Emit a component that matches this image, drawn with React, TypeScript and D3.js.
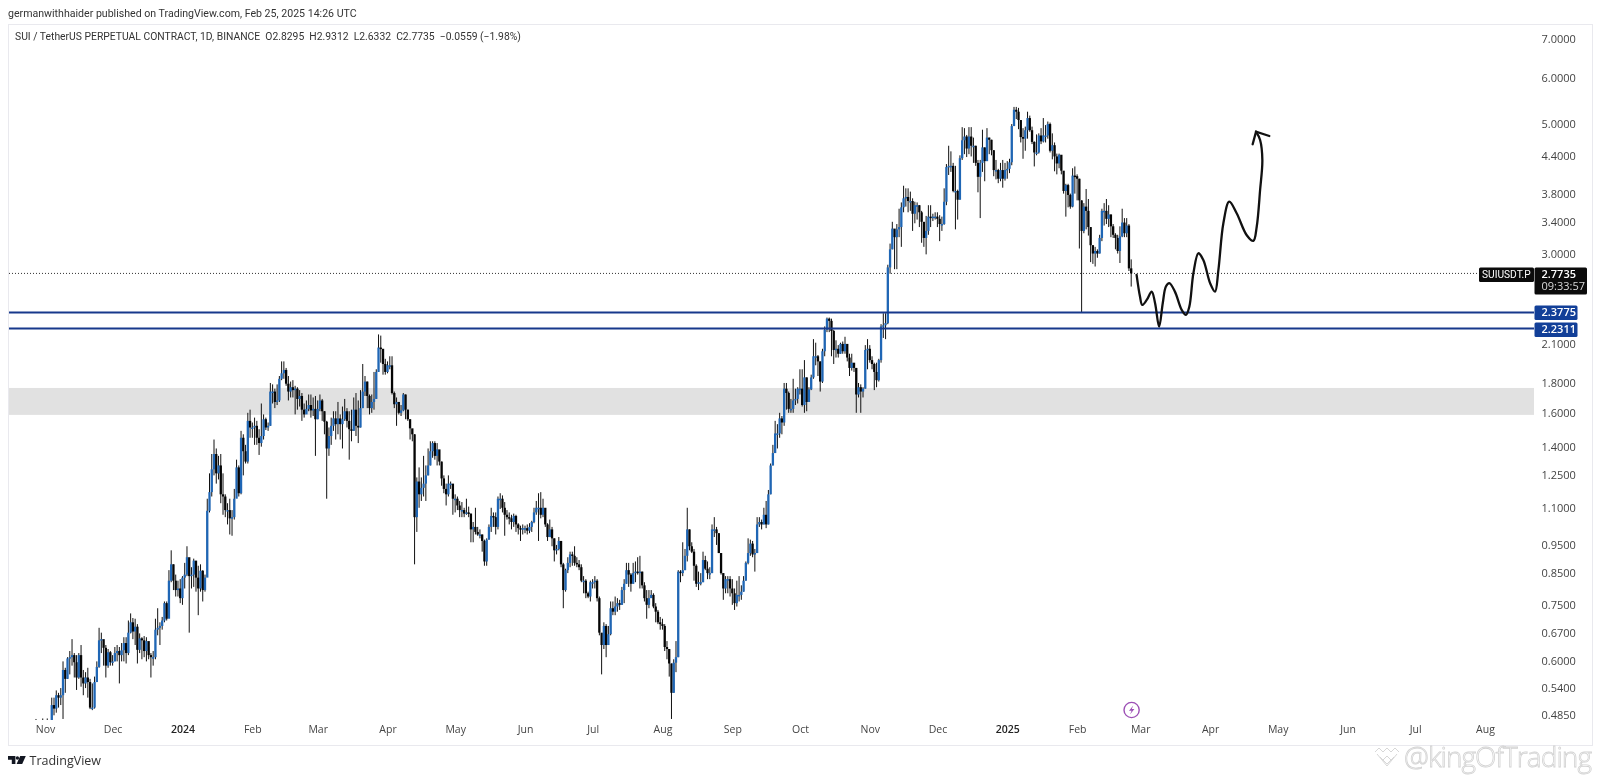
import React, { useEffect, useRef } from "react";
import * as d3 from "d3";

type Bar = [number, number, number]; // high, low, close (open is the previous close)

const oct23: Bar[] = [[0.478,0.44,0.46],[0.47,0.44,0.455],[0.47,0.44,0.46],[0.479,0.45,0.46]];
const nov23: Bar[] = [
  [0.47,0.45,0.46],[0.479,0.45,0.465],[0.47,0.45,0.46],[0.52,0.46,0.505],[0.52,0.485,0.498],[0.535,0.49,0.525],[0.53,0.5,0.52],[0.54,0.505,0.525],
  [0.6,0.478,0.58],[0.585,0.53,0.56],[0.61,0.56,0.607],[0.625,0.57,0.61],[0.655,0.59,0.615],[0.62,0.563,0.598],[0.615,0.536,0.563],[0.62,0.56,0.615],
  [0.64,0.543,0.563],[0.58,0.525,0.55],[0.575,0.54,0.563],[0.585,0.52,0.553],[0.56,0.497,0.5],[0.55,0.495,0.5],[0.565,0.498,0.553],[0.6,0.553,0.587],
  [0.685,0.585,0.652],[0.672,0.62,0.655],[0.65,0.59,0.633],[0.64,0.563,0.59],[0.63,0.585,0.622],[0.625,0.59,0.598],
];
const dec23: Bar[] = [
  [0.615,0.59,0.6],[0.635,0.6,0.62],[0.64,0.6,0.625],[0.635,0.55,0.615],[0.645,0.6,0.627],[0.66,0.6,0.645],[0.66,0.595,0.62],[0.705,0.615,0.672],
  [0.725,0.67,0.7],[0.712,0.655,0.675],[0.71,0.64,0.688],[0.695,0.595,0.628],[0.67,0.62,0.657],[0.66,0.605,0.652],[0.663,0.61,0.625],[0.66,0.6,0.65],
  [0.635,0.605,0.615],[0.62,0.563,0.61],[0.625,0.59,0.61],[0.71,0.605,0.68],[0.74,0.665,0.685],[0.7,0.64,0.69],[0.715,0.68,0.705],[0.76,0.7,0.755],
  [0.76,0.705,0.71],[0.86,0.76,0.825],[0.93,0.82,0.88],[0.88,0.795,0.825],[0.845,0.775,0.795],[0.825,0.775,0.8],[0.83,0.755,0.77],
];
const jan24: Bar[] = [
  [0.84,0.75,0.835],[0.885,0.8,0.845],[0.945,0.84,0.905],[0.9,0.672,0.84],[0.87,0.8,0.845],[0.9,0.805,0.893],[0.885,0.79,0.835],[0.875,0.72,0.8],
  [0.88,0.79,0.858],[0.86,0.76,0.795],[0.845,0.79,0.835],[1.14,0.84,1.087],[1.26,1.08,1.17],[1.36,1.15,1.28],[1.44,1.25,1.36],[1.39,1.21,1.26],
  [1.35,1.23,1.3],[1.36,1.12,1.16],[1.26,1.07,1.15],[1.16,1.06,1.09],[1.12,1.03,1.09],[1.14,0.99,1.055],[1.09,0.985,1.06],[1.185,1.05,1.14],
  [1.33,1.17,1.29],[1.3,1.15,1.165],[1.49,1.16,1.45],[1.47,1.25,1.375],[1.41,1.31,1.32],[1.6,1.31,1.55],[1.62,1.45,1.51],
];
const feb24: Bar[] = [
  [1.54,1.45,1.51],[1.57,1.41,1.52],[1.55,1.41,1.45],[1.5,1.355,1.42],[1.66,1.4,1.46],[1.59,1.44,1.56],[1.57,1.495,1.51],[1.54,1.49,1.52],
  [1.8,1.52,1.74],[1.79,1.66,1.74],[1.76,1.63,1.67],[1.79,1.65,1.68],[1.85,1.67,1.83],[1.96,1.82,1.87],[1.96,1.83,1.895],[1.91,1.78,1.795],
  [1.85,1.68,1.74],[1.81,1.7,1.77],[1.82,1.7,1.75],[1.78,1.59,1.76],[1.77,1.62,1.69],[1.75,1.64,1.71],[1.73,1.55,1.62],[1.66,1.57,1.59],
  [1.68,1.6,1.625],[1.72,1.61,1.65],[1.72,1.57,1.615],[1.7,1.58,1.625],[1.71,1.35,1.56],
];
const mar24: Bar[] = [
  [1.68,1.56,1.625],[1.72,1.61,1.68],[1.69,1.55,1.61],[1.61,1.47,1.545],[1.55,1.14,1.39],[1.51,1.35,1.46],[1.57,1.41,1.52],[1.61,1.49,1.565],
  [1.61,1.44,1.53],[1.67,1.47,1.565],[1.59,1.44,1.53],[1.64,1.39,1.56],[1.69,1.55,1.61],[1.63,1.51,1.55],[1.61,1.33,1.5],[1.62,1.43,1.49],
  [1.7,1.49,1.62],[1.73,1.46,1.52],[1.68,1.42,1.51],[1.75,1.51,1.63],[1.94,1.63,1.74],[1.85,1.71,1.81],[1.81,1.63,1.71],[1.72,1.59,1.63],
  [1.72,1.6,1.67],[1.88,1.62,1.69],[1.9,1.69,1.88],[2.18,1.88,2.07],[2.17,1.95,2.06],[2.05,1.86,1.94],[1.98,1.86,1.88],
];
const apr24: Bar[] = [
  [1.96,1.87,1.93],[2.0,1.9,1.93],[2.0,1.72,1.73],[1.74,1.63,1.655],[1.7,1.52,1.67],[1.67,1.59,1.6],[1.65,1.58,1.615],[1.73,1.61,1.72],
  [1.72,1.56,1.62],[1.62,1.55,1.56],[1.56,1.44,1.505],[1.5,1.43,1.47],[1.47,0.88,1.06],[1.24,1.0,1.22],[1.29,1.1,1.16],[1.24,1.13,1.19],
  [1.35,1.15,1.21],[1.3,1.13,1.25],[1.39,1.25,1.3],[1.43,1.3,1.375],[1.43,1.34,1.42],[1.43,1.33,1.35],[1.42,1.3,1.385],[1.38,1.3,1.32],
  [1.32,1.2,1.235],[1.25,1.165,1.185],[1.21,1.11,1.16],[1.25,1.15,1.21],[1.22,1.185,1.21],[1.2,1.07,1.14],
];
const may24: Bar[] = [
  [1.16,1.08,1.14],[1.15,1.09,1.11],[1.13,1.06,1.09],[1.125,1.06,1.09],[1.1,1.06,1.075],[1.14,1.07,1.08],[1.105,1.06,1.075],[1.075,0.96,1.01],
  [1.04,0.96,1.02],[1.1,0.99,1.0],[1.02,0.985,0.99],[1.01,0.975,0.99],[0.99,0.925,0.965],[0.97,0.875,0.89],[0.975,0.875,0.97],[1.03,0.97,1.02],
  [1.1,1.0,1.065],[1.08,1.02,1.06],[1.08,0.99,1.02],[1.15,1.01,1.14],[1.165,1.095,1.14],[1.155,1.08,1.1],[1.125,0.985,1.07],[1.09,1.05,1.06],
  [1.08,1.03,1.055],[1.07,1.01,1.04],[1.075,1.02,1.065],[1.07,1.0,1.03],[1.035,0.99,1.015],[1.025,0.965,1.01],[1.03,0.99,1.015],
];
const jun24: Bar[] = [
  [1.025,0.995,1.015],[1.03,0.99,1.005],[1.035,0.995,1.02],[1.045,1.0,1.04],[1.1,1.035,1.08],[1.13,1.07,1.1],[1.165,0.965,1.1],[1.17,1.055,1.07],
  [1.14,1.06,1.1],[1.085,1.02,1.03],[1.035,0.965,0.98],[1.05,0.98,1.01],[1.02,0.945,0.975],[0.975,0.89,0.93],[0.95,0.915,0.935],[0.98,0.93,0.965],
  [0.965,0.87,0.88],[0.885,0.74,0.795],[0.865,0.79,0.86],[0.905,0.85,0.885],[0.925,0.87,0.915],[0.925,0.875,0.91],[0.945,0.875,0.885],[0.905,0.87,0.88],
  [0.895,0.86,0.87],[0.88,0.82,0.825],[0.84,0.785,0.825],[0.83,0.77,0.785],[0.79,0.77,0.775],[0.825,0.76,0.82],
];
const jul24: Bar[] = [
  [0.83,0.8,0.82],[0.84,0.8,0.825],[0.83,0.76,0.77],[0.775,0.665,0.672],[0.67,0.57,0.64],[0.7,0.63,0.69],[0.695,0.61,0.64],[0.69,0.64,0.668],
  [0.76,0.665,0.74],[0.76,0.72,0.73],[0.775,0.72,0.745],[0.77,0.73,0.755],[0.765,0.735,0.75],[0.805,0.75,0.795],[0.83,0.755,0.815],[0.885,0.815,0.86],
  [0.885,0.805,0.845],[0.85,0.79,0.815],[0.885,0.815,0.85],[0.89,0.82,0.855],[0.905,0.845,0.85],[0.91,0.8,0.855],[0.855,0.8,0.81],[0.82,0.76,0.77],
  [0.795,0.71,0.75],[0.795,0.74,0.77],[0.795,0.775,0.78],[0.785,0.74,0.745],[0.755,0.7,0.73],[0.735,0.695,0.7],[0.715,0.68,0.695],
];
const aug24: Bar[] = [
  [0.71,0.68,0.69],[0.695,0.625,0.635],[0.65,0.605,0.63],[0.63,0.565,0.595],[0.595,0.478,0.53],[0.605,0.53,0.597],[0.65,0.575,0.61],[0.86,0.61,0.855],
  [0.86,0.82,0.85],[0.96,0.84,0.86],[0.935,0.86,0.91],[1.1,0.89,1.01],[1.01,0.93,0.945],[0.96,0.92,0.925],[0.935,0.825,0.875],[0.88,0.805,0.815],
  [0.855,0.795,0.82],[0.85,0.81,0.82],[0.925,0.82,0.895],[0.91,0.86,0.865],[0.89,0.83,0.85],[0.87,0.83,0.85],[1.03,0.85,1.01],[1.06,0.98,1.01],
  [1.02,0.95,0.995],[0.995,0.92,0.92],[0.92,0.845,0.85],[0.85,0.765,0.8],[0.84,0.785,0.83],[0.84,0.785,0.83],[0.84,0.775,0.8],
];
const sep24: Bar[] = [
  [0.83,0.75,0.785],[0.8,0.735,0.755],[0.825,0.745,0.78],[0.84,0.76,0.78],[0.81,0.765,0.79],[0.84,0.79,0.825],[0.89,0.825,0.885],[0.975,0.88,0.92],
  [0.97,0.91,0.955],[0.965,0.905,0.915],[0.935,0.855,0.92],[1.06,0.92,1.03],[1.06,1.02,1.04],[1.05,1.01,1.03],[1.1,1.03,1.07],[1.13,1.015,1.03],
  [1.18,1.03,1.16],[1.31,1.16,1.3],[1.41,1.3,1.365],[1.55,1.4,1.475],[1.53,1.39,1.475],[1.6,1.45,1.565],[1.58,1.47,1.54],[1.8,1.52,1.76],
  [1.8,1.62,1.73],[1.74,1.6,1.625],[1.69,1.6,1.625],[1.83,1.6,1.68],[1.76,1.65,1.69],[1.77,1.66,1.76],
];
const oct24: Bar[] = [
  [1.9,1.72,1.76],[1.9,1.64,1.65],[1.97,1.6,1.84],[1.84,1.61,1.67],[1.77,1.67,1.755],[1.86,1.75,1.84],[2.14,1.83,2.0],[2.11,1.93,2.0],
  [2.01,1.85,1.96],[1.96,1.74,1.81],[2.06,1.8,2.04],[2.25,2.0,2.22],[2.33,2.2,2.32],[2.33,2.2,2.3],[2.32,2.0,2.21],[2.22,1.94,2.05],
  [2.13,1.99,2.06],[2.09,1.99,2.02],[2.11,2.02,2.1],[2.12,2.02,2.04],[2.16,2.02,2.1],[2.08,1.96,1.99],[2.02,1.85,1.91],[2.02,1.89,1.95],
  [1.92,1.88,1.91],[1.91,1.6,1.72],[1.8,1.7,1.77],[1.79,1.6,1.74],[1.77,1.7,1.76],[2.09,1.76,2.05],[2.14,1.9,2.06],
];
const nov24: Bar[] = [
  [2.09,1.95,1.97],[2.0,1.9,1.94],[1.95,1.75,1.88],[1.95,1.77,1.82],[1.98,1.81,1.97],[2.27,1.95,2.25],[2.37,2.15,2.26],[2.37,2.14,2.28],
  [2.87,2.27,2.84],[3.12,2.77,3.05],[3.4,3.05,3.31],[3.29,2.82,3.2],[3.37,2.82,3.3],[3.58,3.2,3.33],[3.67,3.08,3.6],[3.92,3.53,3.73],
  [3.88,3.61,3.75],[3.88,3.53,3.69],[3.83,3.55,3.69],[3.73,3.28,3.51],[3.68,3.38,3.63],[3.67,3.43,3.63],[3.63,3.33,3.53],[3.55,3.13,3.4],
  [3.39,3.08,3.19],[3.48,2.99,3.28],[3.63,3.23,3.47],[3.63,3.33,3.45],[3.51,3.41,3.47],[3.53,3.43,3.47],
];
const dec24: Bar[] = [
  [3.53,3.33,3.44],[3.49,3.15,3.37],[3.47,3.28,3.37],[3.88,3.36,3.68],[4.27,3.63,4.22],[4.59,4.09,4.24],[4.49,4.14,4.24],[4.29,3.82,3.84],
  [4.24,3.3,3.84],[3.86,3.43,3.71],[4.42,3.71,4.37],[4.94,4.34,4.69],[4.92,4.44,4.76],[4.79,4.39,4.54],[4.94,4.44,4.76],[4.94,4.4,4.59],
  [4.74,4.29,4.59],[4.59,4.24,4.29],[4.34,3.82,4.06],[4.34,3.45,4.29],[4.89,4.14,4.56],[4.56,3.99,4.32],[4.92,4.32,4.74],[4.74,4.44,4.7],
  [4.7,4.42,4.51],[4.51,4.07,4.17],[4.34,4.02,4.17],[4.19,3.96,4.03],[4.29,3.99,4.17],[4.34,3.89,4.03],[4.29,4.0,4.17],
];
const jan25: Bar[] = [
  [4.32,4.03,4.19],[4.36,4.12,4.3],[5.0,4.25,4.96],[5.35,5.0,5.29],[5.35,5.1,5.25],[5.33,4.9,5.08],[5.08,4.65,4.75],[4.92,4.36,4.72],
  [4.95,4.5,4.88],[5.25,4.72,5.12],[5.17,4.85,4.88],[4.95,4.62,4.66],[4.67,4.23,4.47],[4.8,4.42,4.47],[4.82,4.45,4.78],[4.92,4.62,4.67],
  [5.12,4.65,4.78],[4.98,4.65,4.78],[5.05,4.72,5.0],[5.03,4.47,4.5],[4.82,4.35,4.6],[4.65,4.15,4.4],[4.45,4.1,4.28],[4.45,4.2,4.43],
  [4.4,4.1,4.16],[4.15,3.8,3.84],[3.95,3.47,3.93],[3.95,3.6,3.78],[3.8,3.58,3.61],[4.2,3.6,4.08],[4.23,3.8,4.07],
];
const feb25: Bar[] = [
  [4.1,3.7,4.03],[4.03,3.06,3.7],[3.7,2.38,3.28],[3.66,3.25,3.61],[3.87,3.3,3.55],[3.72,3.22,3.33],[3.33,2.9,3.1],[3.1,2.88,3.0],
  [3.08,2.85,3.03],[3.05,2.95,3.0],[3.23,3.0,3.19],[3.58,3.15,3.55],[3.66,3.35,3.55],[3.72,3.37,3.44],[3.63,3.33,3.5],[3.5,3.2,3.34],
  [3.37,3.19,3.23],[3.25,3.05,3.19],[3.23,3.0,3.03],[3.34,2.89,3.21],[3.58,3.2,3.39],[3.45,3.2,3.25],[3.45,3.2,3.35],[3.37,2.8,2.8295],[2.9312,2.6332,2.7735],
];
const bars: Bar[] = [oct23, nov23, dec23, jan24, feb24, mar24, apr24, may24, jun24, jul24, aug24, sep24, oct24, nov24, dec24, jan25, feb25].flat();

const firstDay = new Date(Date.UTC(2023, 9, 28));
const priceTicks = [7, 6, 5, 4.4, 3.8, 3.4, 3, 2.1, 1.8, 1.6, 1.4, 1.25, 1.1, 0.95, 0.85, 0.75, 0.67, 0.6, 0.54, 0.485];
const supportLevels = [2.3775, 2.2311];
const lastPrice = 2.7735;
const zone = [1.765, 1.587];

// the hand drawn projection, in days from Nov 1 2023 and price
const sketchDays = [484.4,485.9,486.9,488.9,491.1,492.6,494.4,496,497.4,498.9,501.4,504.4,506.3,507.8,509.6,511.8,514,517,519.2,520.7,522.9,525.5,528.8,533.2,536.2,537.7,539.2,540.2,539.2,537.4];
const sketchPrices = [2.757,2.531,2.449,2.498,2.581,2.466,2.248,2.466,2.633,2.669,2.581,2.402,2.355,2.433,2.775,3.003,2.925,2.669,2.581,2.812,3.381,3.681,3.517,3.228,3.153,3.335,3.855,4.339,4.696,4.853];
const arrowDays = [543.3, 537.4, 535.9];
const arrowPrices = [4.77, 4.853, 4.617];

const W = 1600;
const H = 776;
const font = "'Open Sans', sans-serif";
const headFont = "Roboto, sans-serif";

function App() {
  const ref = useRef<SVGSVGElement>(null);

  useEffect(() => {
    const svg = d3.select(ref.current);
    svg.selectAll("*").remove();

    const paneLeft = 9;
    const paneRight = 1534;
    const paneTop = 25;
    const paneBottom = 720;

    const t0 = new Date(Date.UTC(2023, 10, 1));
    const x = d3.scaleUtc().domain([t0, new Date(Date.UTC(2025, 7, 1))]).range([45, 1485]);
    const y = d3.scaleLog().domain([7, 0.485]).range([38.8, 715.3]);
    const dayX = (d: number) => x(new Date(+t0 + d * 864e5));

    svg.append("rect").attr("width", W).attr("height", H).attr("fill", "#fff");
    svg.append("rect").attr("x", 8.5).attr("y", 24.5).attr("width", 1584).attr("height", 721)
      .attr("fill", "none").attr("stroke", "#e9e9ee");

    svg.append("defs").append("clipPath").attr("id", "pane").append("rect")
      .attr("x", paneLeft).attr("y", paneTop).attr("width", paneRight - paneLeft).attr("height", paneBottom - paneTop);
    const pane = svg.append("g").attr("clip-path", "url(#pane)");

    // grey zone
    pane.append("rect").attr("x", paneLeft).attr("width", paneRight - paneLeft)
      .attr("y", y(zone[0])).attr("height", y(zone[1]) - y(zone[0])).attr("fill", "#e1e1e1");

    // last price line
    pane.append("line").attr("x1", paneLeft).attr("x2", paneRight).attr("y1", y(lastPrice)).attr("y2", y(lastPrice))
      .attr("stroke", "#333").attr("stroke-dasharray", "1 2");

    // candles
    const rows = bars.map((b, i) => ({
      t: d3.utcDay.offset(firstDay, i),
      high: b[0],
      low: b[1],
      close: b[2],
      open: i === bars.length - 1 ? 2.8295 : i ? bars[i - 1][2] : 0.45,
    }));
    pane.append("g").selectAll("line").data(rows).join("line")
      .attr("x1", (d) => x(d.t)).attr("x2", (d) => x(d.t))
      .attr("y1", (d) => y(d.high)).attr("y2", (d) => y(d.low))
      .attr("stroke", "#111").attr("stroke-width", 1);
    pane.append("g").selectAll("rect").data(rows).join("rect")
      .attr("x", (d) => x(d.t) - 1.15).attr("width", 2.3)
      .attr("y", (d) => y(Math.max(d.open, d.close)))
      .attr("height", (d) => Math.max(1.5, Math.abs(y(d.open) - y(d.close))))
      .attr("fill", (d) => (d.close >= d.open ? "#1f66b5" : "#050505"));

    // support lines
    pane.selectAll(".sup").data(supportLevels).join("line").attr("class", "sup")
      .attr("x1", paneLeft).attr("x2", paneRight).attr("y1", (d) => y(d)).attr("y2", (d) => y(d))
      .attr("stroke", "#17398c").attr("stroke-width", 2);

    // sketch
    const sketchLine = d3.line<number>().x((d) => dayX(d))
      .y((_, i) => y(sketchPrices[i])).curve(d3.curveCatmullRom.alpha(0.5));
    const arrowLine = d3.line<number>().x((d) => dayX(d)).y((_, i) => y(arrowPrices[i]));
    pane.append("path").attr("d", sketchLine(sketchDays)).attr("fill", "none")
      .attr("stroke", "#111").attr("stroke-width", 2.3).attr("stroke-linecap", "round");
    pane.append("path").attr("d", arrowLine(arrowDays)).attr("fill", "none")
      .attr("stroke", "#111").attr("stroke-width", 2.3).attr("stroke-linecap", "round");

    // lightning marker
    const bolt = svg.append("g").attr("transform", "translate(1131.6,710)");
    bolt.append("circle").attr("r", 7.6).attr("fill", "#fff").attr("stroke", "#9c4fb5").attr("stroke-width", 1.4);
    bolt.append("path").attr("d", "M1.6 -4.6 L-2.6 0.8 H0 L-1.6 4.6 L2.8 -0.9 H0.2 Z").attr("fill", "#9c4fb5");

    // price axis
    const yAxis = svg.append("g").attr("transform", "translate(1541.5,0)")
      .call(d3.axisRight(y).tickValues(priceTicks).tickSize(0).tickPadding(0).tickFormat(d3.format(".4f") as any));
    yAxis.select(".domain").remove();
    yAxis.selectAll("text").attr("font-family", font).attr("font-size", 11).attr("fill", "#444");

    // time axis
    const months = d3.utcMonth.range(t0, new Date(Date.UTC(2025, 7, 2)));
    const xAxis = svg.append("g").attr("transform", `translate(0,${paneBottom})`)
      .call(d3.axisBottom(x).tickValues(months).tickSize(0).tickPadding(6)
        .tickFormat(((d: Date) => (d.getUTCMonth() === 0 ? d3.utcFormat("%Y")(d) : d3.utcFormat("%b")(d))) as any));
    xAxis.select(".domain").remove();
    xAxis.selectAll("text").attr("font-family", font).attr("font-size", 10.5)
      .attr("fill", (d: any) => (d.getUTCMonth() === 0 ? "#222" : "#444"))
      .attr("font-weight", (d: any) => (d.getUTCMonth() === 0 ? 600 : 400));

    // labels on the price scale
    const box = (bx: number, by: number, bw: number, bh: number, fill: string) =>
      svg.append("rect").attr("x", bx).attr("y", by).attr("width", bw).attr("height", bh).attr("rx", 1.5).attr("fill", fill);
    const label = (tx: number, ty: number, s: string, fill: string, weight = 400, fam = font, size = 11) =>
      svg.append("text").attr("x", tx).attr("y", ty).attr("font-family", fam).attr("font-size", size)
        .attr("font-weight", weight).attr("fill", fill).text(s);

    box(1479, y(lastPrice) - 6, 55, 14.5, "#0b0b0b");
    label(1482, y(lastPrice) + 5, "SUIUSDT.P", "#fff", 400, headFont, 10.2);
    box(1534.5, y(lastPrice) - 6, 52.5, 27, "#0b0b0b");
    label(1541.5, y(lastPrice) + 5, d3.format(".4f")(lastPrice), "#fff", 600);
    label(1541.5, y(lastPrice) + 17, "09:33:57", "#d8d8d8");
    supportLevels.forEach((lvl, i) => {
      box(1534.5, y(lvl) - 7 + (i ? 1 : 0), 43, 14.5, "#123f98");
      label(1541.5, y(lvl) + 4, d3.format(".4f")(lvl), "#fff", 600);
    });

    // header
    svg.append("text").attr("x", 8).attr("y", 17).attr("font-family", headFont).attr("font-size", 10.6)
      .attr("fill", "#333").text("germanwithhaider published on TradingView.com, Feb 25, 2025 14:26 UTC");
    svg.append("text").attr("x", 15).attr("y", 40).attr("font-family", headFont).attr("font-size", 10.35)
      .attr("fill", "#333").attr("xml:space", "preserve")
      .text("SUI / TetherUS PERPETUAL CONTRACT, 1D, BINANCE  O2.8295  H2.9312  L2.6332  C2.7735  \u22120.0559 (\u22121.98%)");

    // TradingView logo
    svg.append("path").attr("d", "M8 756 h7.4 v8 h-3.6 v-4.2 h-3.8 z M20.2 756 h5.6 l-3.6 8 h-5.6 z").attr("fill", "#131722");
    svg.append("circle").attr("cx", 17.4).attr("cy", 758).attr("r", 1.7).attr("fill", "#131722");
    svg.append("text").attr("x", 29.5).attr("y", 765).attr("font-family", font).attr("font-size", 12.5)
      .attr("fill", "#333").text("TradingView");

    // watermark
    const mark = svg.append("g").attr("fill", "none").attr("stroke", "#d2d2d2").attr("stroke-width", 0.9);
    mark.append("path").attr("d", "M1375 752 l4 -4 4 4 M1383 752 l4 -4 4 4 M1391 752 l4 -4 4 4 M1380 757 l7 7 7 -7 M1383 760 l4 -4 4 4 M1377 754 l10 12 10 -12");
    mark.append("text").attr("x", 1404).attr("y", 767).attr("font-family", font).attr("font-size", 28).attr("font-weight", 300)
      .attr("fill", "#fff").attr("textLength", 188).attr("stroke-width", 0.8).text("@kingOfTrading");
  }, []);

  return (
    <svg ref={ref} width={W} height={H} style={{ position: "absolute", left: 0, top: 0, display: "block", filter: "blur(0.35px)" }} />
  );
}

export default App;
